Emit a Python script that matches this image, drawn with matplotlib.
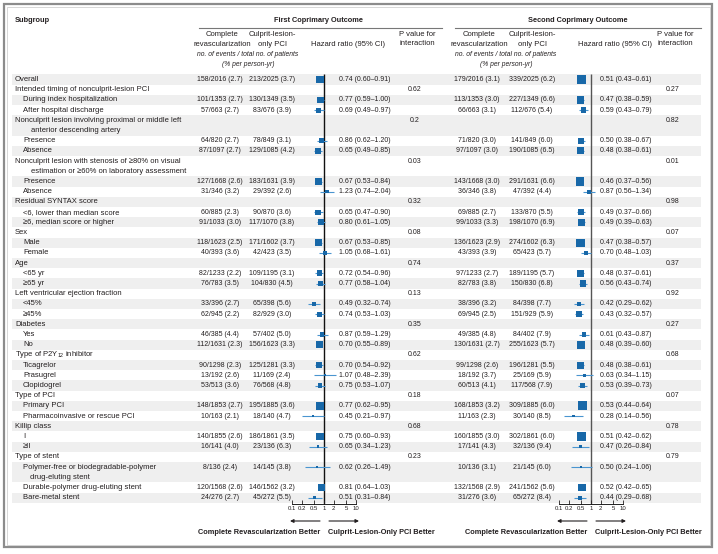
import numpy as np
import matplotlib.pyplot as plt
from matplotlib.ticker import NullLocator

plt.rcParams['font.family'] = ['Liberation Sans', 'DejaVu Sans']
plt.rcParams['mathtext.fontset'] = 'custom'
plt.rcParams['mathtext.rm'] = 'Liberation Sans'

# Subgroup rows ('\n' = label wraps onto a second row)
subgroup = ["Overall",
            "Intended timing of nonculprit-lesion PCI",
            "During index hospitalization",
            "After hospital discharge",
            "Nonculprit lesion involving proximal or middle left\nanterior descending artery",
            "Presence",
            "Absence",
            "Nonculprit lesion with stenosis of \u226580% on visual\nestimation or \u226560% on laboratory assessment",
            "Presence",
            "Absence",
            "Residual SYNTAX score",
            "<6, lower than median score",
            "\u22656, median score or higher",
            "Sex",
            "Male",
            "Female",
            "Age",
            "<65 yr",
            "\u226565 yr",
            "Left ventricular ejection fraction",
            "<45%",
            "\u226545%",
            "Diabetes",
            "Yes",
            "No",
            "Type of P2Y$\\mathregular{_{12}}$ inhibitor",
            "Ticagrelor",
            "Prasugrel",
            "Clopidogrel",
            "Type of PCI",
            "Primary PCI",
            "Pharmacoinvasive or rescue PCI",
            "Killip class",
            "I",
            "\u2265II",
            "Type of stent",
            "Polymer-free or biodegradable-polymer\ndrug-eluting stent",
            "Durable-polymer drug-eluting stent",
            "Bare-metal stent"]
is_header = [False, True, False, False, True, False, False, True, False, False,
             True, False, False, True, False, False, True, False, False, True,
             False, False, True, False, False, True, False, False, False, True,
             False, False, True, False, False, True, False, False, False]

# First coprimary outcome
first_complete = ["158/2016 (2.7)", "101/1353 (2.7)", "57/663 (2.7)", "64/820 (2.7)", "87/1097 (2.7)",
                  "127/1668 (2.6)", "31/346 (3.2)", "60/885 (2.3)", "91/1033 (3.0)", "118/1623 (2.5)",
                  "40/393 (3.6)", "82/1233 (2.2)", "76/783 (3.5)", "33/396 (2.7)", "62/945 (2.2)",
                  "46/385 (4.4)", "112/1631 (2.3)", "90/1298 (2.3)", "13/192 (2.6)", "53/513 (3.6)",
                  "148/1853 (2.7)", "10/163 (2.1)", "140/1855 (2.6)", "16/141 (4.0)", "8/136 (2.4)",
                  "120/1568 (2.6)", "24/276 (2.7)"]
first_culprit = ["213/2025 (3.7)", "130/1349 (3.5)", "83/676 (3.9)", "78/849 (3.1)", "129/1085 (4.2)",
                 "183/1631 (3.9)", "29/392 (2.6)", "90/870 (3.6)", "117/1070 (3.8)", "171/1602 (3.7)",
                 "42/423 (3.5)", "109/1195 (3.1)", "104/830 (4.5)", "65/398 (5.6)", "82/929 (3.0)",
                 "57/402 (5.0)", "156/1623 (3.3)", "125/1281 (3.3)", "11/169 (2.4)", "76/568 (4.8)",
                 "195/1885 (3.6)", "18/140 (4.7)", "186/1861 (3.5)", "23/136 (6.3)", "14/145 (3.8)",
                 "146/1562 (3.2)", "45/272 (5.5)"]
first_hr = [0.74, 0.77, 0.69, 0.86, 0.65, 0.67, 1.23, 0.65, 0.80, 0.67, 1.05, 0.72, 0.77, 0.49,
            0.74, 0.87, 0.70, 0.70, 1.07, 0.75, 0.77, 0.45, 0.75, 0.65, 0.62, 0.81, 0.51]
first_lo = [0.60, 0.59, 0.49, 0.62, 0.49, 0.53, 0.74, 0.47, 0.61, 0.53, 0.68, 0.54, 0.58, 0.32,
            0.53, 0.59, 0.55, 0.54, 0.48, 0.53, 0.62, 0.21, 0.60, 0.34, 0.26, 0.64, 0.31]
first_hi = [0.91, 1.00, 0.97, 1.20, 0.85, 0.84, 2.04, 0.90, 1.05, 0.85, 1.61, 0.96, 1.04, 0.74,
            1.03, 1.29, 0.89, 0.92, 2.39, 1.07, 0.95, 0.97, 0.93, 1.23, 1.49, 1.03, 0.84]
first_p = ["0.62", "0.2", "0.03", "0.32", "0.08", "0.74", "0.13", "0.35", "0.62", "0.18", "0.68", "0.23"]

# Second coprimary outcome
second_complete = ["179/2016 (3.1)", "113/1353 (3.0)", "66/663 (3.1)", "71/820 (3.0)", "97/1097 (3.0)",
                   "143/1668 (3.0)", "36/346 (3.8)", "69/885 (2.7)", "99/1033 (3.3)", "136/1623 (2.9)",
                   "43/393 (3.9)", "97/1233 (2.7)", "82/783 (3.8)", "38/396 (3.2)", "69/945 (2.5)",
                   "49/385 (4.8)", "130/1631 (2.7)", "99/1298 (2.6)", "18/192 (3.7)", "60/513 (4.1)",
                   "168/1853 (3.2)", "11/163 (2.3)", "160/1855 (3.0)", "17/141 (4.3)", "10/136 (3.1)",
                   "132/1568 (2.9)", "31/276 (3.6)"]
second_culprit = ["339/2025 (6.2)", "227/1349 (6.6)", "112/676 (5.4)", "141/849 (6.0)", "190/1085 (6.5)",
                  "291/1631 (6.6)", "47/392 (4.4)", "133/870 (5.5)", "198/1070 (6.9)", "274/1602 (6.3)",
                  "65/423 (5.7)", "189/1195 (5.7)", "150/830 (6.8)", "84/398 (7.7)", "151/929 (5.9)",
                  "84/402 (7.9)", "255/1623 (5.7)", "196/1281 (5.5)", "25/169 (5.9)", "117/568 (7.9)",
                  "309/1885 (6.0)", "30/140 (8.5)", "302/1861 (6.0)", "32/136 (9.4)", "21/145 (6.0)",
                  "241/1562 (5.6)", "65/272 (8.4)"]
second_hr = [0.51, 0.47, 0.59, 0.50, 0.48, 0.46, 0.87, 0.49, 0.49, 0.47, 0.70, 0.48, 0.56, 0.42,
             0.43, 0.61, 0.48, 0.48, 0.63, 0.53, 0.53, 0.28, 0.51, 0.47, 0.50, 0.52, 0.44]
second_lo = [0.43, 0.38, 0.43, 0.38, 0.38, 0.37, 0.56, 0.37, 0.39, 0.38, 0.48, 0.37, 0.43, 0.29,
             0.32, 0.43, 0.39, 0.38, 0.34, 0.39, 0.44, 0.14, 0.42, 0.26, 0.24, 0.42, 0.29]
second_hi = [0.61, 0.59, 0.79, 0.67, 0.61, 0.56, 1.34, 0.66, 0.63, 0.57, 1.03, 0.61, 0.74, 0.62,
             0.57, 0.87, 0.60, 0.61, 1.15, 0.73, 0.64, 0.56, 0.62, 0.84, 1.06, 0.65, 0.68]
second_p = ["0.27", "0.82", "0.01", "0.98", "0.07", "0.37", "0.92", "0.27", "0.68", "0.07", "0.78", "0.79"]

ticks = [0.1, 0.2, 0.5, 1, 2, 5, 10]

# layout (pixels)
W, H = 718, 554
ROW0, DY = 79.5, 10.2
TXT = '#231f20'
FS = 5.0      # numbers
FSL = 5.5     # words

fig = plt.figure(figsize=(W / 100, H / 100), dpi=100)
bg = fig.add_axes([0, 0, 1, 1])
bg.set_xlim(0, W)
bg.set_ylim(H, 0)
bg.axis('off')

def ypix(r):
    return ROW0 + r * DY

# row index of each item
rows = []
r = 0
for lab in subgroup:
    rows.append(r)
    r += lab.count('\n') + 1

# alternating shading and subgroup labels
for i, lab in enumerate(subgroup):
    lines = lab.split('\n')
    if i % 2 == 0:
        top = ypix(rows[i]) - DY / 2
        bg.add_patch(plt.Rectangle((12, top), 689, DY * len(lines), color='#efefef', lw=0, zorder=0))
    lvl0 = is_header[i] or i == 0
    x = 15 if lvl0 else 23
    for k, ln in enumerate(lines):
        dx = 0 if k == 0 else (16 if lvl0 else 7)
        bg.text(x + dx, ypix(rows[i] + k), ln, fontsize=FSL, color=TXT, va='center', ha='left')

data_rows = [rows[i] for i in range(len(subgroup)) if not is_header[i]]
head_rows = [rows[i] for i in range(len(subgroup)) if is_header[i]]

# frame
bg.add_patch(plt.Rectangle((4, 4), 708, 543, fill=False, ec='#8c8c8c', lw=1.6, zorder=5))
bg.add_patch(plt.Rectangle((6.5, 6.5), 703, 538, fill=False, ec='#c8c8c8', lw=0.5, zorder=5))

bg.text(15, 20, "Subgroup", fontsize=5.3, fontweight='bold', color=TXT, va='center')

def panel(title, x_title, ul, cols, x_hr, x_p, x_one, complete, culprit, hr, lo, hi, pv, ref_color):
    bg.text(x_title, 20, title, fontsize=5.3, fontweight='bold', color=TXT, ha='center', va='center')
    bg.plot(ul, [27.5, 27.5], color='#777777', lw=0.8)
    c1, c2, cm = cols
    bg.text(c1, 34, "Complete", fontsize=FSL, color=TXT, ha='center', va='center')
    bg.text(c1, 44, "revascularization", fontsize=FSL, color=TXT, ha='center', va='center')
    bg.text(c2, 34, "Culprit-lesion-", fontsize=FSL, color=TXT, ha='center', va='center')
    bg.text(c2, 44, "only PCI", fontsize=FSL, color=TXT, ha='center', va='center')
    bg.text(cm, 54.5, "no. of events / total no. of patients", fontsize=4.9, color=TXT,
            ha='center', va='center', style='italic')
    bg.text(cm, 64, "(% per person-yr)", fontsize=4.9, color=TXT, ha='center', va='center', style='italic')
    bg.text(x_one + 24, 44, "Hazard ratio (95% CI)", fontsize=FSL, color=TXT, ha='center', va='center')
    bg.text(x_p + 2, 34, "P value for", fontsize=FSL, color=TXT, ha='center', va='center')
    bg.text(x_p + 2, 43.5, "interaction", fontsize=FSL, color=TXT, ha='center', va='center')

    for k, rr in enumerate(data_rows):
        y = ypix(rr)
        bg.text(c1 - 2, y, complete[k], fontsize=FS, color=TXT, ha='center', va='center')
        bg.text(c2, y, culprit[k], fontsize=FS, color=TXT, ha='center', va='center')
        bg.text(x_hr, y, f"{hr[k]:.2f} ({lo[k]:.2f}\u2013{hi[k]:.2f})", fontsize=FS, color=TXT,
                ha='left', va='center')
    for k, rr in enumerate(head_rows):
        bg.text(x_p, ypix(rr), pv[k], fontsize=FS, color=TXT, ha='center', va='center')

    # forest plot on a log axis: 32 px per decade
    top_pix, bot_pix = 74, 504
    ax = fig.add_axes([(x_one - 32) / W, 1 - bot_pix / H, 64 / W, (bot_pix - top_pix) / H])
    ax.patch.set_visible(False)
    ax.set_xscale('log')
    ax.set_xlim(0.1, 10)
    y_bot = (bot_pix - ROW0) / DY
    ax.set_ylim(y_bot, (top_pix - ROW0) / DY)
    ax.vlines(1, (top_pix - ROW0) / DY, y_bot, color=ref_color, lw=1.0, zorder=1)
    hr_a, lo_a, hi_a = np.array(hr), np.array(lo), np.array(hi)
    se = (np.log(hi_a) - np.log(lo_a)) / 3.92
    side = 0.85 / se  # px, inverse-variance weighting
    ax.hlines(data_rows, lo_a, hi_a, color='#4a95d0', lw=0.8, zorder=2)
    ax.scatter(hr_a, data_rows, marker='s', s=(side * 0.72) ** 2, color='#1868a8', lw=0, zorder=3)
    ax.set_xticks(ticks)
    ax.set_xticklabels([f"{t:g}" for t in ticks])
    ax.xaxis.set_minor_locator(NullLocator())
    ax.set_yticks([])
    for s in ['top', 'left', 'right']:
        ax.spines[s].set_visible(False)
    ax.spines['bottom'].set_linewidth(0.6)
    ax.tick_params(axis='x', direction='in', length=3, width=0.6, labelsize=4.3, pad=1.5,
                   colors=TXT)

    # direction arrows and captions
    ap = dict(arrowstyle='-|>', lw=0.8, color=TXT, mutation_scale=5, shrinkA=0, shrinkB=0)
    bg.annotate('', xy=(x_one - 34, 521), xytext=(x_one - 4, 521), arrowprops=ap)
    bg.annotate('', xy=(x_one + 35, 521), xytext=(x_one + 5, 521), arrowprops=ap)
    bg.text(x_one - 4, 533, "Complete Revascularization Better", fontsize=5.3, fontweight='bold',
            color=TXT, ha='right', va='center')
    bg.text(x_one + 4, 533, "Culprit-Lesion-Only PCI Better", fontsize=5.3, fontweight='bold',
            color=TXT, ha='left', va='center')

panel("First Coprimary Outcome", 318, [199, 442], (222, 272, 248), 339, 415, 324,
      first_complete, first_culprit, first_hr, first_lo, first_hi, first_p, '#111111')
panel("Second Coprimary Outcome", 578, [455, 701], (479, 532, 506), 600, 673, 591,
      second_complete, second_culprit, second_hr, second_lo, second_hi, second_p, '#555555')

fig.savefig('out.png', dpi=100)
